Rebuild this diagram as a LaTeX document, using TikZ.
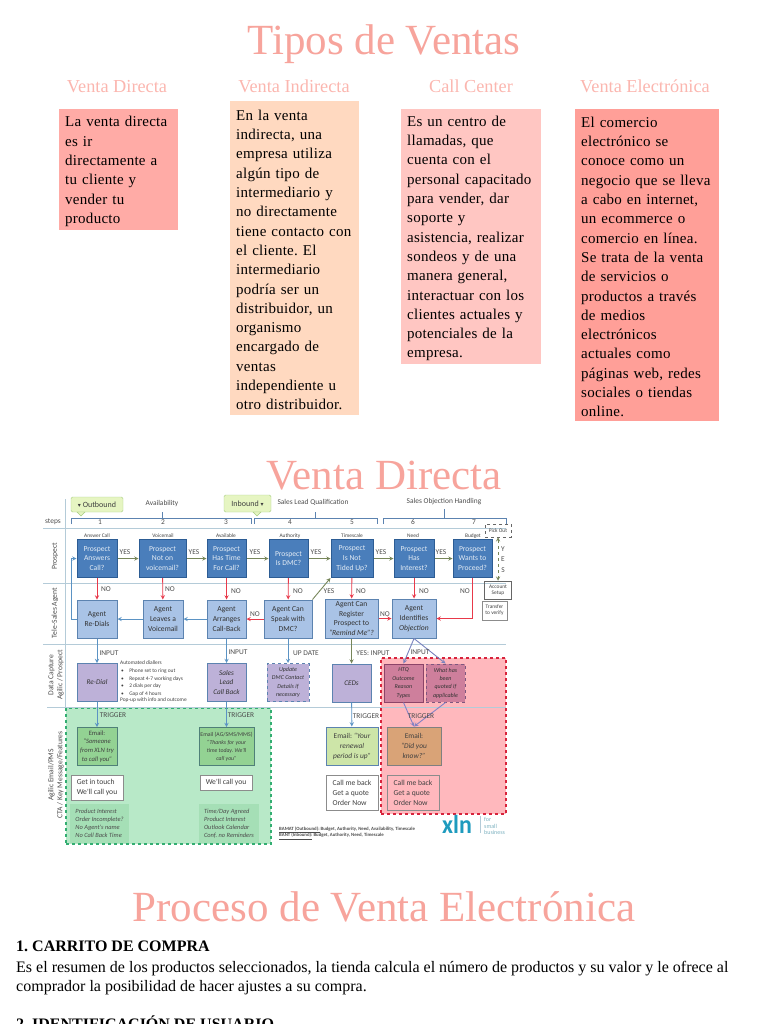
\documentclass[tikz,border=0pt]{standalone}
\usepackage{fontspec}
\usepackage{xcolor}
\usepackage{tikz}
\setmainfont{Liberation Serif}
\newfontfamily\notefont[LetterSpace=1.8]{Liberation Serif}
\newfontfamily\flowfont{Carlito}
\newfontfamily\symfont{DejaVu Sans}
\frenchspacing
\definecolor{titlepink}{HTML}{F7A49C}
\definecolor{subpink}{HTML}{FBB6AF}
\definecolor{fillA}{HTML}{FFABA6}
\definecolor{fillB}{HTML}{FFD9C0}
\definecolor{fillC}{HTML}{FFC6C2}
\definecolor{fillD}{HTML}{FF9F98}
\definecolor{prosblue}{HTML}{4A7EBB}
\definecolor{prosline}{HTML}{2C5C94}
\definecolor{agentblue}{HTML}{A9C3E6}
\definecolor{agentline}{HTML}{5C83B0}
\definecolor{capturefill}{HTML}{BDB1D8}
\definecolor{pinkfill}{HTML}{CE7F9C}
\definecolor{pinkline}{HTML}{8C4468}
\definecolor{greenzone}{HTML}{B8E9C8}
\definecolor{greendash}{HTML}{33AE72}
\definecolor{offerfill}{HTML}{A5DFB6}
\definecolor{mailgreen}{HTML}{93D293}
\definecolor{mailline}{HTML}{4F8078}
\definecolor{mailpale}{HTML}{CDE5A8}
\definecolor{mailtan}{HTML}{D9A377}
\definecolor{redzone}{HTML}{FFB8BD}
\definecolor{reddash}{HTML}{D8233C}
\definecolor{lane}{HTML}{B4CBD8}
\definecolor{linkblue}{HTML}{5B93C4}
\definecolor{linkred}{HTML}{E8394A}
\definecolor{linkolive}{HTML}{77865A}
\definecolor{linkpurple}{HTML}{8482C4}
\definecolor{tealxln}{HTML}{1E9BBE}
\definecolor{callfill}{HTML}{E6F5C2}
\definecolor{callline}{HTML}{A9CE84}
\begin{document}
\begin{tikzpicture}[x=1pt,y=-1pt,>=stealth]
\tikzstyle{every node}=[inner sep=0pt];
\tikzstyle{big title}=[anchor=base,text=titlepink,font=\fontsize{43}{43}\selectfont];
\tikzstyle{sub title}=[anchor=base,text=subpink,font=\fontsize{18.3}{19}\selectfont];
\tikzstyle{note box}=[anchor=north west,align=left,inner xsep=6pt,font=\notefont\fontsize{15}{19.3}\selectfont,execute at begin node=\leavevmode\rule{0pt}{14pt}];
\tikzstyle{body text}=[anchor=base west,font=\fontsize{16}{16}\selectfont];
\tikzstyle{flow}=[font=\flowfont\fontsize{7.6}{9.8}\selectfont,align=center];
\tikzstyle{small}=[font=\flowfont\fontsize{5.4}{6}\selectfont,text=black!75,align=center];
\tikzstyle{tag}=[font=\flowfont\fontsize{7.4}{8}\selectfont,text=black!70];
\tikzstyle{lane title}=[font=\flowfont\fontsize{7.6}{9}\selectfont,text=black!70,rotate=90,align=center];
\tikzstyle{pros}=[flow,draw=prosline,fill=prosblue,line width=1pt,text=white!85!prosblue,minimum height=38pt];
\tikzstyle{agent}=[flow,draw=agentline,fill=agentblue,line width=1pt,text=black!80,minimum height=38pt];
\tikzstyle{capture}=[flow,draw=agentline,fill=capturefill,line width=1pt,text=black!80,minimum height=38pt,font=\flowfont\itshape\fontsize{7.2}{9.4}\selectfont];
\tikzstyle{email}=[flow,line width=1pt,minimum height=38pt,text=black!75,font=\flowfont\itshape\fontsize{6.6}{8.6}\selectfont];
\tikzstyle{cta}=[draw=black!45,fill=white,flow,align=left,inner xsep=5pt,text=black!75,font=\flowfont\fontsize{7.6}{10}\selectfont];
\tikzstyle{offer}=[fill=offerfill,flow,align=left,inner xsep=5pt,text=black!70,font=\flowfont\itshape\fontsize{6.4}{8}\selectfont];
\tikzstyle{side box}=[draw=black!60,small,line width=0.5pt];
\tikzstyle{callout}=[draw=callline,fill=callfill,rounded corners=1.5pt,font=\flowfont\fontsize{8}{9}\selectfont,text=black!75];
\tikzstyle{blue link}=[->,draw=linkblue,line width=0.9pt];
\tikzstyle{red link}=[->,draw=linkred,line width=0.9pt];
\tikzstyle{olive link}=[->,draw=linkolive,line width=0.9pt];
\tikzstyle{purple link}=[->,draw=linkpurple,line width=0.9pt];
\clip (0,0) rectangle (768,1024);
% titles
\path (384,55) node[big title] (title) {Tipos de Ventas};
\path (117,93) node[sub title] (subA) {Venta Directa};
\path (294,93) node[sub title] (subB) {Venta Indirecta};
\path (471,93) node[sub title] (subC) {Call Center};
\path (645,93) node[sub title] (subD) {Venta Electrónica};
% text boxes
\path (59,109) node[note box,fill=fillA,minimum width=119pt,minimum height=121pt,text width=107pt] (boxA) {La venta directa\\es ir\\directamente a\\tu cliente y\\vender tu\\producto};
\path (230,101) node[note box,fill=fillB,minimum width=129pt,minimum height=314pt,text width=117pt] (boxB) {En la venta\\indirecta, una\\empresa utiliza\\algún tipo de\\intermediario y\\no directamente\\tiene contacto con\\el cliente. El\\intermediario\\podría ser un\\distribuidor, un\\organismo\\encargado de\\ventas\\independiente u\\otro distribuidor.};
\path (401,109) node[note box,fill=fillC,minimum width=140pt,minimum height=255pt,text width=128pt] (boxC) {Es un centro de\\llamadas, que\\cuenta con el\\personal capacitado\\para vender, dar\\soporte y\\asistencia, realizar\\sondeos y de una\\manera general,\\interactuar con los\\clientes actuales y\\potenciales de la\\empresa.};
\path (575,109) node[note box,fill=fillD,minimum width=144pt,minimum height=312pt,text width=132pt] (boxD) {El comercio\\electrónico se\\conoce como un\\negocio que se lleva\\a cabo en internet,\\un ecommerce o\\comercio en línea.\\Se trata de la venta\\de servicios o\\productos a través\\de medios\\electrónicos\\actuales como\\páginas web, redes\\sociales o tiendas\\online.};
\path (384,489) node[big title] (title2) {Venta Directa};
% zones behind the flow
\path (168.5,776) node[fill=greenzone,draw=greendash,dashed,line width=1.2pt,minimum width=205pt,minimum height=136pt] (zoneG) {};
\path (443.5,736) node[fill=redzone,draw=reddash,dashed,line width=1.2pt,minimum width=125pt,minimum height=156pt] (zoneR) {};
% lanes
\draw[lane,line width=0.8pt] (43,528) -- (506,528) (43,583) -- (506,583) (43,644) -- (506,644) (47,707) -- (506,707) (65,499) -- (65,708);
% header
\path (97,504.5) node[callout,minimum width=52pt,minimum height=15pt] (outb) {{\symfont\fontsize{6}{6}\selectfont ▾} Outbound};
\fill[callfill,draw=callline] (77,512) -- (81,516) -- (85,512) -- cycle;
\path (247.5,503.5) node[callout,minimum width=47pt,minimum height=17pt] (inb) {Inbound {\symfont\fontsize{6}{6}\selectfont ▾}};
\fill[callfill,draw=callline] (253,512) -- (257,516) -- (261,512) -- cycle;
\path (162,504) node[tag] (avail) {Availability};
\path (313,502) node[tag] (qual) {Sales Lead Qualification};
\path (444,502) node[tag] (objec) {Sales Objection Handling};
\draw[agentline,line width=0.5pt] (71,524) -- (71,518) -- (251,518) -- (251,524) (162,518) -- (162,512);
\draw[agentline,line width=0.5pt] (254,524) -- (254,518) -- (377,518) -- (377,524) (315,518) -- (315,512);
\draw[agentline,line width=0.5pt] (383,524) -- (383,518) -- (506,518) -- (506,524) (444,518) -- (444,509);
\path (53,522) node[tag] (steps) {steps};
\path (100,522) node[tag] (n1) {1};
\path (163,522) node[tag] (n2) {2};
\path (226,522) node[tag] (n3) {3};
\path (290,522) node[tag] (n4) {4};
\path (352,522) node[tag] (n5) {5};
\path (413,522) node[tag] (n6) {6};
\path (474,522) node[tag] (n7) {7};
\path (97,536) node[small] (h1) {Answer Call};
\path (163,536) node[small] (h2) {Voicemail};
\path (226,536) node[small] (h3) {Available};
\path (290,536) node[small] (h4) {Authority};
\path (352,536) node[small] (h5) {Timescale};
\path (413,536) node[small] (h6) {Need};
\path (473,536) node[small] (h7) {Budget};
% lane names
\path (55,556) node[lane title] (l1) {Prospect};
\path (55,613) node[lane title] (l2) {Tele-Sales Agent};
\path (56,675) node[lane title] (l3) {Data Capture\\Agilic / Prospect};
\path (56,775) node[lane title] (l4) {Agilic Email/PMS\\CTA / Key Message/Features};
% prospect row
\path (97,558.5) node[pros,minimum width=40pt] (p1) {Prospect\\Answers\\Call?};
\path (162.5,558.5) node[pros,minimum width=47pt] (p2) {Prospect\\Not on\\voicemail?};
\path (226.5,558.5) node[pros,minimum width=39pt] (p3) {Prospect\\Has Time\\For Call?};
\path (288.5,558.5) node[pros,minimum width=39pt] (p4) {Prospect\\Is DMC?};
\path (352,558.5) node[pros,minimum width=42pt] (p5) {Prospect\\Is Not\\Tided Up?};
\path (414,558.5) node[pros,minimum width=40pt] (p6) {Prospect\\Has\\Interest?};
\path (472.5,558.5) node[pros,minimum width=39pt] (p7) {Prospect\\Wants to\\Proceed?};
% agent row
\path (97,619) node[agent,minimum width=40pt] (a1) {Agent\\Re-Dials};
\path (163,619) node[agent,minimum width=40pt] (a2) {Agent\\Leaves a\\Voicemail};
\path (226.5,619) node[agent,minimum width=39pt] (a3) {Agent\\Arranges\\Call-Back};
\path (288,619) node[agent,minimum width=48pt] (a4) {Agent Can\\Speak with\\DMC?};
\path (351.5,618.5) node[agent,minimum width=53pt,minimum height=39pt] (a5) {Agent Can\\Register\\Prospect to\\\textit{“Remind Me”?}};
\path (414,618.5) node[agent,minimum width=44pt,minimum height=39pt] (a6) {Agent\\Identifies\\\textit{Objection}};
% capture row
\path (97,682.5) node[capture,minimum width=40pt] (d1) {Re-Dial};
\path (226.5,682.5) node[capture,minimum width=39pt] (d3) {Sales\\Lead\\Call Back};
\path (288,682.5) node[capture,dashed,minimum width=42pt,font=\flowfont\itshape\fontsize{6}{8.4}\selectfont] (d4) {Update\\DMC Contact\\Details if\\necessary};
\path (351.5,683) node[capture,minimum width=39pt] (d5) {CEDs};
\path (403.5,683) node[capture,fill=pinkfill,draw=pinkline,minimum width=39pt,font=\flowfont\itshape\fontsize{6}{8.4}\selectfont] (d6) {HTQ\\Outcome\\Reason\\Types};
\path (445.5,683) node[capture,dashed,fill=pinkfill,draw=pinkline!70!agentline,minimum width=39pt,font=\flowfont\itshape\fontsize{6}{8.4}\selectfont] (d7) {What has\\been\\quoted if\\applicable};
\path (120,663) node[small,anchor=west,align=left] (dialA) {Automated diallers};
\path (121,682.5) node[small,anchor=west,align=left] (dialB) {•\quad Phone set to ring out\\[1.4pt]•\quad Repeat 4-7 working days\\[1.4pt]•\quad 2 dials per day\\[1.4pt]•\quad Gap of 4 hours};
\path (120,700) node[small,anchor=west,align=left] (dialC) {Pop-up with info and outcome};
% email row
\path (97,746.5) node[email,draw=mailline,fill=mailgreen,minimum width=40pt] (e1) {\textup{Email:}\\“Someone\\from XLN try\\to call you”};
\path (226.5,746.5) node[email,draw=mailline,fill=mailgreen,minimum width=55pt,font=\flowfont\itshape\fontsize{5.8}{8}\selectfont] (e3) {\textup{Email (AG/SMS/MMS)}\\“Thanks for your\\time today. We'll\\call you”};
\path (352,746) node[email,draw=agentline,fill=mailpale,minimum width=52pt,font=\flowfont\itshape\fontsize{7.4}{10}\selectfont] (e5) {\textup{Email:} “Your\\renewal\\period is up”};
\path (414,746) node[email,draw=black!50,fill=mailtan,minimum width=54pt,font=\flowfont\itshape\fontsize{7.4}{10}\selectfont] (e6) {\textup{Email:}\\“Did you\\know?”};
% call to action row
\path (97,787.5) node[cta,minimum width=52pt,minimum height=25pt] (c1) {Get in touch\\We'll call you};
\path (226,782.5) node[cta,minimum width=52pt,minimum height=15pt] (c3) {We'll call you};
\path (352,792.5) node[cta,minimum width=52pt,minimum height=35pt] (c5) {Call me back\\Get a quote\\Order Now};
\path (413,792.5) node[cta,fill=redzone,minimum width=52pt,minimum height=35pt] (c6) {Call me back\\Get a quote\\Order Now};
\path (99.5,823.5) node[offer,minimum width=57pt,minimum height=39pt] (o1) {Product Interest\\Order Incomplete?\\No Agent's name\\No Call Back Time};
\path (229,823.5) node[offer,minimum width=56pt,minimum height=39pt] (o3) {Time/Day Agreed\\Product Interest\\Outlook Calendar\\Conf. no Reminders};
% connectors: prospect row
\draw[olive link] (p1) -- (p2);
\draw[olive link] (p2) -- (p3);
\draw[olive link] (p3) -- (p4);
\draw[olive link] (p4) -- (p5);
\draw[olive link] (p5) -- (p6);
\draw[olive link] (p6) -- (p7);
\draw[red link] (p1) -- (a1);
\draw[red link] (p2) -- (a2);
\draw[red link] (p3) -- (a3);
\draw[red link] (p4) -- (a4);
\draw[red link] (p5) -- (a5);
\draw[red link] (p6) -- (a6);
\draw[red link] (p7.south) |- (a6.east);
% connectors: agent row
\draw[blue link] (a1.west) -- (71,619) -- (71,558.5) -- (p1.west);
\draw[blue link] (a2) -- (a1);
\draw[blue link] (a3) -- (a2);
\draw[red link] (a4) -- (a3);
\draw[red link] (a5) -- (a6);
\draw[olive link] (a4.north east) -- (p5.south west);
\draw[blue link] (a1) -- (d1);
\draw[blue link] (a3) -- (d3);
\draw[blue link] (a4) -- (d4);
\draw[olive link] (a5) -- (d5);
\draw[linkpurple!70!agentline,->,line width=0.9pt] (a6.south) -- (d6.north);
\draw[linkpurple!70!agentline,->,line width=0.9pt] (a6.south) -- (d7.north);
% connectors: capture row
\draw[blue link] (d1) -- (e1);
\draw[blue link] (d3) -- (e3);
\draw[blue link] (d5) -- (e5);
\draw[purple link] (d6.south) -- (e6.north);
\draw[purple link] (d7.south) -- (e6.north);
% side boxes
\path (498,530.5) node[side box,dashed,minimum width=26pt,minimum height=13pt] (pick) {Pick Out};
\path (498,590) node[side box,minimum width=27pt,minimum height=18pt] (acct) {Account\\Setup};
\path (494.5,610.5) node[side box,draw=black!45,minimum width=25pt,minimum height=19pt] (trans) {Transfer\\to verify};
\draw[olive link,<->,dashed] (pick) -- (acct);
\path (503,549) node[tag] (y1) {Y};
\path (503,559) node[tag] (y2) {E};
\path (503,570) node[tag] (y3) {S};
% flow labels
\path (125,552) node[tag] (yes1) {YES};
\path (194,552) node[tag] (yes2) {YES};
\path (255,552) node[tag] (yes3) {YES};
\path (316,552) node[tag] (yes4) {YES};
\path (381,552) node[tag] (yes5) {YES};
\path (441,552) node[tag] (yes6) {YES};
\path (329,591) node[tag] (yes7) {YES};
\path (106,589) node[tag] (no1) {NO};
\path (170,589) node[tag] (no2) {NO};
\path (236,591) node[tag] (no3) {NO};
\path (298,591) node[tag] (no4) {NO};
\path (361,591) node[tag] (no5) {NO};
\path (424,591) node[tag] (no6) {NO};
\path (465,591) node[tag] (no7) {NO};
\path (255,614) node[tag] (no8) {NO};
\path (385,614) node[tag] (no9) {NO};
\path (109,653) node[tag] (in1) {INPUT};
\path (238,652) node[tag] (in2) {INPUT};
\path (306,653) node[tag] (upd) {UP DATE};
\path (373,653) node[tag] (in3) {YES: INPUT};
\path (420,652) node[tag] (in4) {INPUT};
\path (113,715) node[tag] (tr1) {TRIGGER};
\path (241,715) node[tag] (tr2) {TRIGGER};
\path (366,716) node[tag] (tr3) {TRIGGER};
\path (421,716) node[tag] (tr4) {TRIGGER};
% footnote and logo
\path (279,830) node[anchor=west,font=\flowfont\bfseries\fontsize{4.8}{5}\selectfont,text=black!70] (fn1) {\underline{BAMAT (Outbound):} Budget, Authority, Need, Availability, Timescale};
\path (279,836.5) node[anchor=west,font=\flowfont\bfseries\fontsize{4.8}{5}\selectfont,text=black!70] (fn2) {\underline{BANT (Inbound):} Budget, Authority, Need, Timescale};
\path (457,833) node[anchor=base,font=\flowfont\bfseries\fontsize{26}{26}\selectfont,text=tealxln,xscale=0.92,transform shape] (xln) {xln};
\draw[lane,line width=0.5pt] (480,816) -- (480,833);
\path (484,826) node[anchor=west,align=left,font=\flowfont\fontsize{6}{6.2}\selectfont,text=tealxln!60!gray!70] (small) {for\\small\\business};
% process text
\path (384,921) node[big title] (title3) {Proceso de Venta Electrónica};
\path (16,951.5) node[body text,font=\bfseries\fontsize{16}{16}\selectfont] (st1) {1. CARRITO DE COMPRA};
\path (16,972) node[body text] (tx1) {Es el resumen de los productos seleccionados, la tienda calcula el número de productos y su valor y le ofrece al};
\path (16,991) node[body text] (tx2) {comprador la posibilidad de hacer ajustes a su compra.};
\path (16,1029) node[body text,font=\bfseries\fontsize{16}{16}\selectfont] (st2) {2. IDENTIFICACIÓN DE USUARIO};
\end{tikzpicture}
\end{document}
